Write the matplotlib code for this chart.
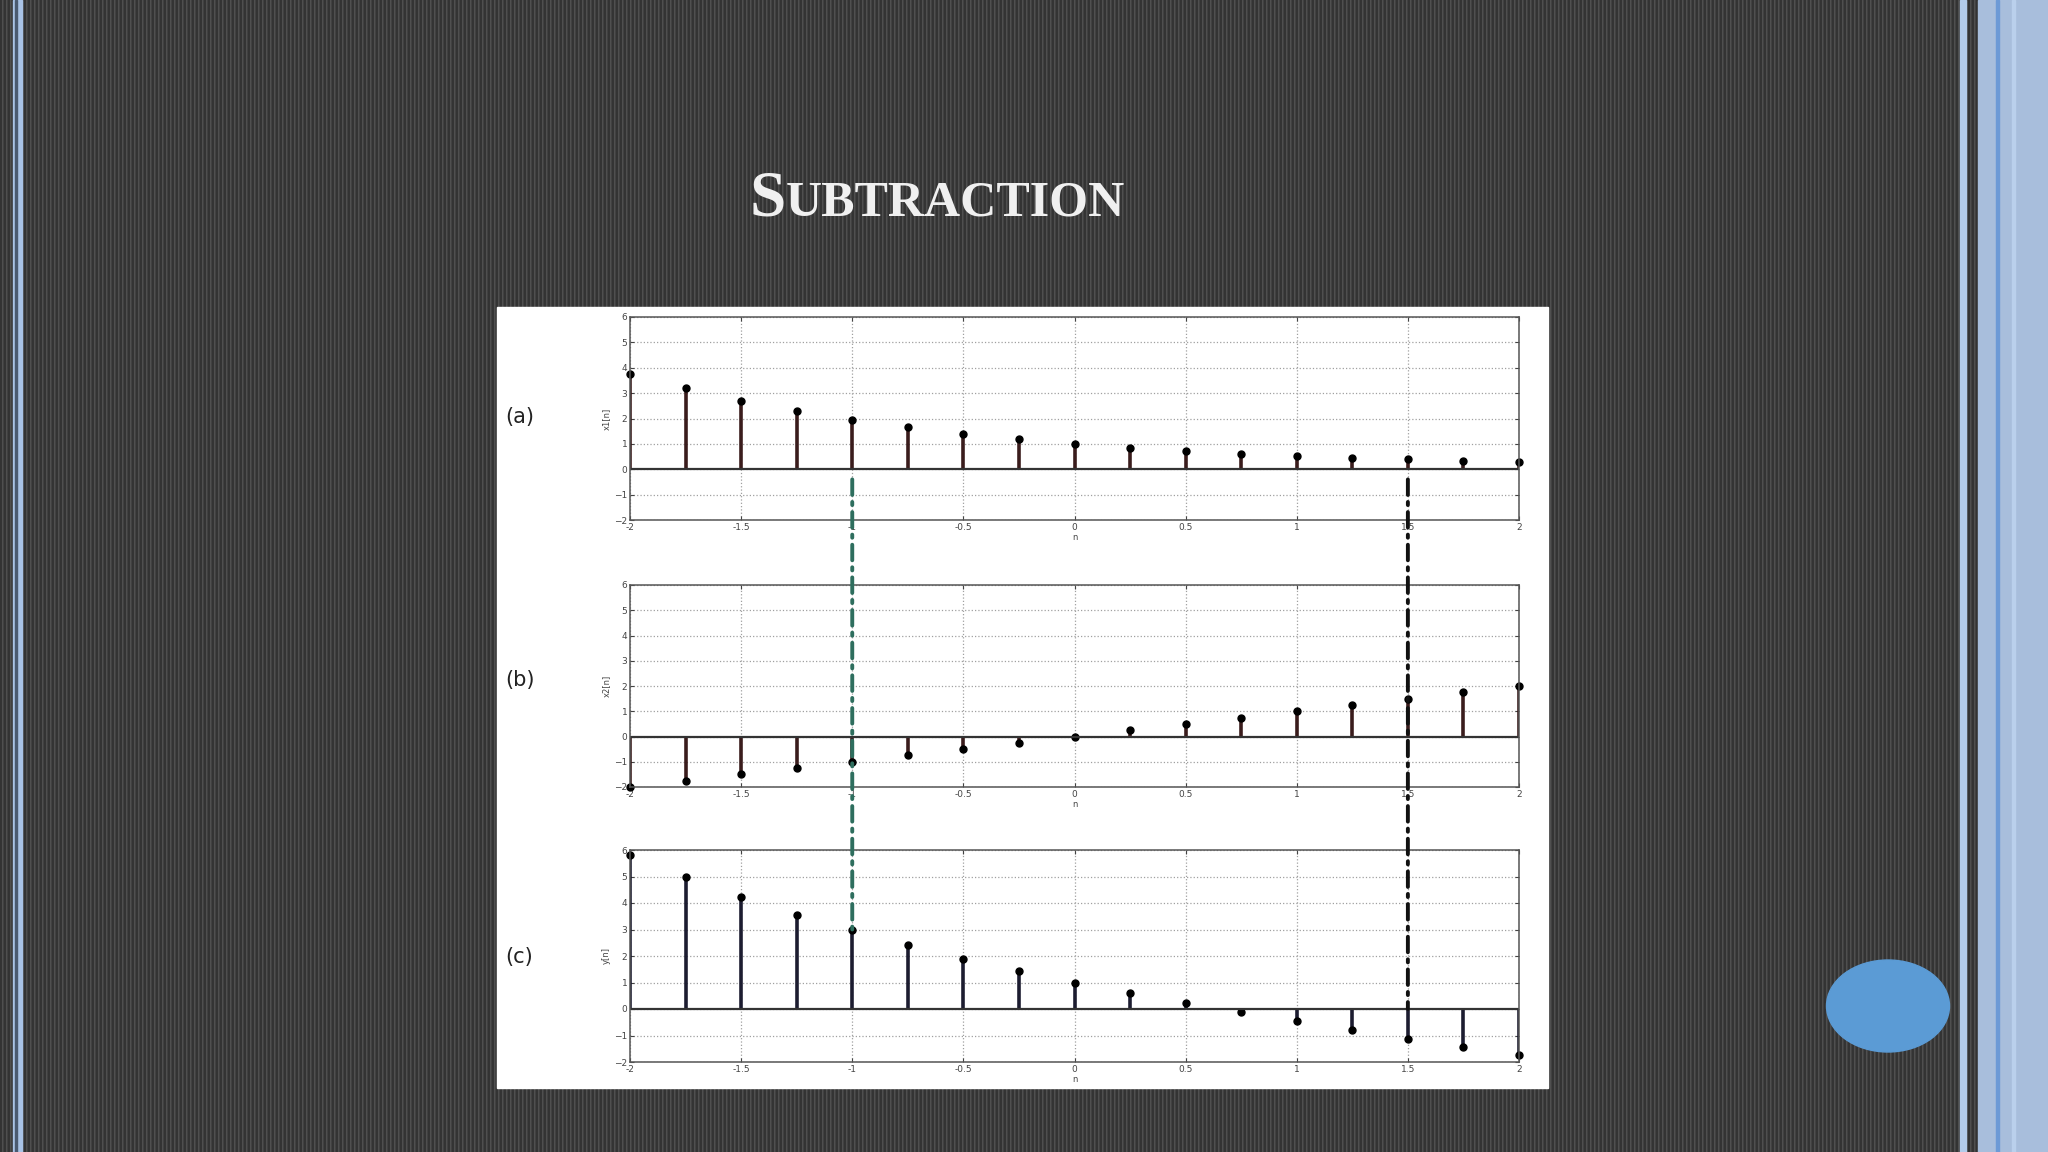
import matplotlib
matplotlib.use("Agg")
import matplotlib.pyplot as plt
from matplotlib.patches import Rectangle, Ellipse, ConnectionPatch
import numpy as np

W, H = 2048, 1152

# sample positions and the three sequences
n = [-2, -1.75, -1.5, -1.25, -1, -0.75, -0.5, -0.25, 0, 0.25, 0.5, 0.75, 1, 1.25, 1.5, 1.75, 2]
x1 = [3.75, 3.2, 2.7, 2.3, 1.95, 1.65, 1.4, 1.2, 1.0, 0.85, 0.72, 0.62, 0.53, 0.46, 0.39, 0.33, 0.27]
x2 = [-2, -1.75, -1.5, -1.25, -1, -0.75, -0.5, -0.25, 0, 0.25, 0.5, 0.75, 1, 1.25, 1.5, 1.75, 2]
y = [5.8, 5.0, 4.22, 3.55, 2.97, 2.4, 1.9, 1.45, 1.0, 0.6, 0.22, -0.13, -0.47, -0.8, -1.12, -1.42, -1.73]

xticks = [-2, -1.5, -1, -0.5, 0, 0.5, 1, 1.5, 2]
xticklabels = ["-2", "-1.5", "-1", "-0.5", "0", "0.5", "1", "1.5", "2"]
yticks = [-2, -1, 0, 1, 2, 3, 4, 5, 6]
panel_tags = ["(a)", "(b)", "(c)"]
ylabels = ["x1[n]", "x2[n]", "y[n]"]

fig = plt.figure(figsize=(W / 100, H / 100), dpi=100)

# slide background: dark pinstripe texture
bg = fig.add_axes([0, 0, 1, 1])
bg.set_xlim(0, W)
bg.set_ylim(H, 0)
bg.axis("off")
tile = np.array([0.2, 0.21, 0.31, 0.26])
row = np.tile(tile, W // 4)
bg.imshow(np.tile(row, (2, 1)), cmap="gray", vmin=0, vmax=1, aspect="auto",
          extent=[0, W, H, 0], interpolation="nearest", zorder=0)

# blue side stripes
bg.add_patch(Rectangle((13, 0), 9, H, color="#a9c3e6", zorder=1))
bg.add_patch(Rectangle((15, 0), 1.5, H, color="#4a5a70", zorder=1))
bg.add_patch(Rectangle((1960, 0), 6, H, color="#b2cbea", zorder=1))
bg.add_patch(Rectangle((1978, 0), W - 1978, H, color="#a8bedc", zorder=1))
bg.add_patch(Rectangle((1996, 0), 2.5, H, color="#6d9ad6", zorder=1))
bg.add_patch(Rectangle((2012, 0), 3, H, color="#bad0ec", zorder=1))

# white picture panel
bg.add_patch(Rectangle((497, 307), 1051, 781, color="white", zorder=1))

# blue circle button
bg.add_patch(Ellipse((1888, 1006), 123, 92, color="#5b9bd5", zorder=2))

# title in small caps
fig.text(786 / W, 1 - 215 / H, "S", fontsize=47, family="Liberation Serif",
         weight="bold", color="#f0f0f0", ha="right", va="baseline")
fig.text(786 / W, 1 - 215 / H, "UBTRACTION", fontsize=36, family="Liberation Serif",
         weight="bold", color="#f0f0f0", ha="left", va="baseline")

left = 630 / W
width = (1519 - 630) / W
boxes = [(317, 520), (585, 787), (850, 1062)]
series = [x1, x2, y]
stem_colors = ["#3a1c1c", "#3a1c1c", "#1c1c30"]
tag_y = [417, 680, 957]

axes = []
for i in range(3):
    top, bot = boxes[i]
    ax = fig.add_axes([left, 1 - bot / H, width, (bot - top) / H])
    ax.set_facecolor("white")
    markerline, stemlines, baseline = ax.stem(n, series[i])
    markerline.set_color("black")
    markerline.set_markersize(5)
    markerline.set_clip_on(False)
    stemlines.set_color(stem_colors[i])
    stemlines.set_linewidth(2.6)
    baseline.set_color("#333333")
    baseline.set_linewidth(1.6)
    ax.set_xlim(-2, 2)
    ax.set_ylim(-2, 6)
    ax.set_xticks(xticks)
    ax.set_xticklabels(xticklabels)
    ax.set_yticks(yticks)
    ax.grid(True, linestyle=":", color="#a0a0a0", linewidth=0.9)
    ax.tick_params(direction="in", length=3, labelsize=6.5, colors="#444444",
                   top=True, right=True, pad=2)
    for s in ax.spines.values():
        s.set_color("#555555")
        s.set_linewidth(1.1)
    ax.set_ylabel(ylabels[i], fontsize=6, color="#444444", labelpad=2)
    ax.set_xlabel("n", fontsize=6, color="#444444", labelpad=1)
    fig.text(505 / W, 1 - tag_y[i] / H, panel_tags[i], fontsize=15,
             color="#222222", ha="left", va="center")
    axes.append(ax)

# dash-dot guides linking the samples across the panels
guides = [(-1, -0.4, 3.0, "#2e6e5e"), (1.5, -0.4, 0.0, "#111111")]
for gx, ya, yc, col in guides:
    con = ConnectionPatch(xyA=(gx, ya), coordsA=axes[0].transData,
                          xyB=(gx, yc), coordsB=axes[2].transData,
                          color=col, linewidth=2.8, linestyle=(0, (4, 1.8, 0.8, 1.8)),
                          zorder=10)
    fig.add_artist(con)

fig.savefig("out.png", dpi=100)
